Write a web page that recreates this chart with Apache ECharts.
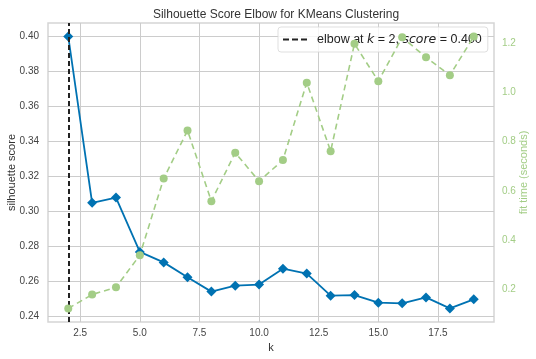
<!DOCTYPE html>
<html><head><meta charset="utf-8">
<script src="https://cdn.jsdelivr.net/npm/echarts@6/dist/echarts.min.js"></script>
<style>html,body{margin:0;padding:0;background:#fff}#c{width:536px;height:359px}</style>
</head><body><div id="c"></div>
<script>
const kValues = [2,3,4,5,6,7,8,9,10,11,12,13,14,15,16,17,18,19];
const silhouetteScores = [0.400,0.305,0.308,0.277,0.271,0.2625,0.2543,0.2577,0.2583,0.2674,0.2646,0.2520,0.2523,0.2480,0.2476,0.2510,0.2447,0.2499];
const fitTimes = [0.123,0.179,0.209,0.339,0.650,0.845,0.558,0.755,0.639,0.725,1.039,0.761,1.197,1.045,1.223,1.142,1.069,1.226];
const xTicks = [2.5,5.0,7.5,10.0,12.5,15.0,17.5];
const leftTicks = [0.24,0.26,0.28,0.30,0.32,0.34,0.36,0.38,0.40];
const rightTicks = [0.2,0.4,0.6,0.8,1.0,1.2];
const elbowK = 2;
const elbowScore = 0.400;

function padRange(arr){const mn=Math.min(...arr),mx=Math.max(...arr),r=mx-mn;return [mn-0.05*r,mx+0.05*r];}
const xr = padRange(kValues), yl = padRange(silhouetteScores), yr = padRange(fitTimes);
const FONT = '"Liberation Sans", Arial, sans-serif';
const GREEN = '#a3cd86';
const BLUE = '#0072B2';

const chart = echarts.init(document.getElementById('c'), null, {renderer:'canvas'});
chart.setOption({
  animation:false,
  textStyle:{fontFamily:FONT},
  title:{text:'Silhouette Score Elbow for KMeans Clustering', left:271, top:4, textAlign:'center',
    textStyle:{fontSize:12, fontWeight:'normal', color:'#333', fontFamily:FONT}},
  grid:{left:48, right:42, top:23, bottom:37, containLabel:false, outerBoundsMode:'none',
    show:true, borderColor:'#d5d5d5', borderWidth:1.5, backgroundColor:'#fff'},
  legend:{
    data:[{name:'elbow', icon:'path://M0,0h6v2h-6z M9,0h6v2h-6z M18,0h6v2h-6z'}],
    left:278, top:27, z:4, padding:[6,6,6,5], itemWidth:24, itemHeight:2, itemGap:6,
    backgroundColor:'rgba(255,255,255,0.8)', borderColor:'rgba(215,215,215,0.8)', borderWidth:1, borderRadius:3,
    itemStyle:{color:'#222'},
    formatter:function(){return '{n|elbow at }{i|k}{n| = ' + elbowK + ', }{i|score}{n| = ' + elbowScore.toFixed(3) + '}';},
    textStyle:{fontSize:12.5, color:'#222', fontFamily:FONT, padding:[0,0,0,5],
      rich:{n:{fontSize:12.5, color:'#222', fontFamily:FONT}, i:{fontSize:12.5, color:'#222', fontStyle:'italic', fontFamily:'"DejaVu Sans", sans-serif'}}}
  },
  xAxis:{type:'value', min:xr[0], max:xr[1], name:'k', nameLocation:'middle', nameGap:20, nameMoveOverlap:false,
    nameTextStyle:{fontSize:11, color:'#333'},
    axisLine:{show:false}, axisTick:{show:false, customValues:xTicks},
    axisLabel:{customValues:xTicks, formatter:v=>v.toFixed(1), fontSize:10, color:'#444', margin:6},
    splitLine:{show:true, lineStyle:{color:'#cccccc', width:1}}},
  yAxis:[
    {type:'value', min:yl[0], max:yl[1], name:'silhouette score', nameLocation:'middle', nameGap:36, nameMoveOverlap:false,
      nameTextStyle:{fontSize:11, color:'#333', verticalAlign:'middle'},
      axisLine:{show:false}, axisTick:{show:false, customValues:leftTicks},
      axisLabel:{customValues:leftTicks, formatter:v=>v.toFixed(2), fontSize:10, color:'#444', margin:9},
      splitLine:{show:true, lineStyle:{color:'#cccccc', width:1}}},
    {type:'value', min:yr[0], max:yr[1], position:'right', name:'fit time (seconds)', nameLocation:'middle', nameGap:30, nameMoveOverlap:false,
      nameRotate:90, nameTextStyle:{fontSize:11, color:GREEN, verticalAlign:'middle'},
      axisLine:{show:false}, axisTick:{show:false, customValues:rightTicks},
      axisLabel:{customValues:rightTicks, formatter:v=>v.toFixed(1), fontSize:10, color:GREEN, margin:8},
      splitLine:{show:false}}
  ],
  series:[
    {name:'fit time', type:'line', yAxisIndex:1, data:kValues.map((k,i)=>[k,fitTimes[i]]),
      symbol:'circle', symbolSize:8, lineStyle:{color:GREEN, width:1.6, type:[6,4]}, itemStyle:{color:GREEN}, z:6},
    {name:'score', type:'line', yAxisIndex:0, data:kValues.map((k,i)=>[k,silhouetteScores[i]]),
      symbol:'diamond', symbolSize:10, lineStyle:{color:BLUE, width:1.8}, itemStyle:{color:BLUE}, z:3},
    {name:'elbow', type:'line', yAxisIndex:0, data:[], symbol:'none', color:'#222',
      lineStyle:{color:'#222', width:2, type:[5,3]},
      markLine:{silent:true, symbol:'none', label:{show:false}, lineStyle:{color:'#222', width:2, type:[5,3]},
        data:[{xAxis:elbowK}]}, z:3}
  ]
});
</script></body></html>
